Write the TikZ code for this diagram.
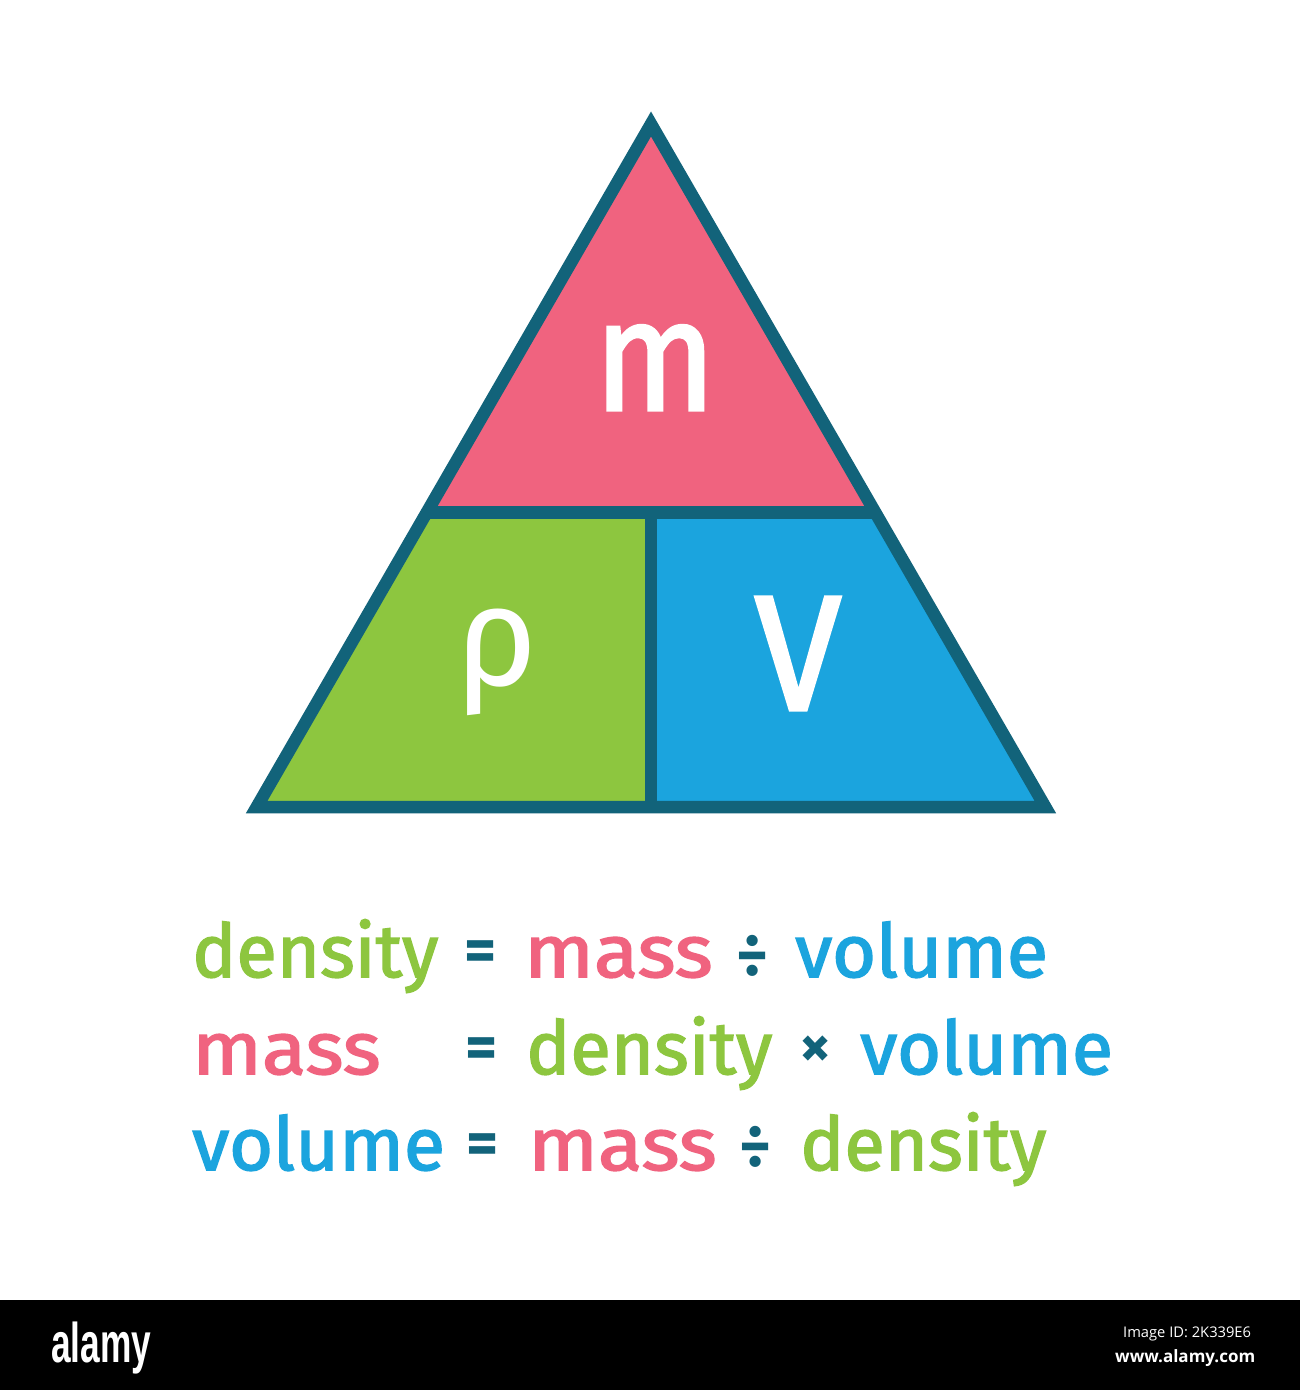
\documentclass[tikz,border=0pt]{standalone}
\usepackage{fontspec}
\setmainfont{Fira Sans}
\newfontfamily\dinfont{Fira Sans}[FakeBold=2]
\newfontfamily\opsans{Open Sans}
\newfontfamily\arialfont{Liberation Sans}
\definecolor{pinkc}{HTML}{F0637F}
\definecolor{greenc}{HTML}{8DC63F}
\definecolor{bluec}{HTML}{1BA4DE}
\definecolor{tealc}{HTML}{12637A}
\tikzset{
  edge/.style={draw=tealc, line width=12.5bp, line join=miter},
  word/.style={anchor=base west, inner sep=0pt, font=\dinfont\fontsize{74bp}{74bp}\selectfont},
  opsym/.style={anchor=center, inner sep=0pt, text=tealc, font=\fontsize{62bp}{62bp}\selectfont\bfseries},
  bigletter/.style={anchor=base, inner sep=0pt, text=white},
  wm/.style={inner sep=0pt, text=white, anchor=base west}
}
\begin{document}
\begin{tikzpicture}[x=1bp,y=-1bp]
\useasboundingbox (0,0) rectangle (1300,1390);
\fill[white] (0,0) rectangle (1300,1390);
% vertices
\coordinate (A) at (651,124);
\coordinate (B) at (256.7,807);
\coordinate (C) at (1045.3,807);
\coordinate (L) at (426.7,512.5);
\coordinate (R) at (875.3,512.5);
\coordinate (M) at (651,512.5);
\coordinate (N) at (651,807);
% regions
\fill[pinkc] (A) -- (L) -- (R) -- cycle;
\fill[greenc] (L) -- (M) -- (N) -- (B) -- cycle;
\fill[bluec] (M) -- (R) -- (C) -- (N) -- cycle;
% outline and dividers
\draw[edge] (L) -- (R);
\draw[edge] (M) -- (N);
\draw[edge] (A) -- (B) -- (C) -- cycle;
% letters
\node[bigletter, font=\dinfont\fontsize{157bp}{157bp}\selectfont, xscale=0.9] (m) at (655,410) {m};
\node[bigletter, font=\fontsize{142bp}{142bp}\selectfont] (rho) at (497,685) {ρ};
\node[bigletter, font=\dinfont\fontsize{164bp}{164bp}\selectfont, xscale=0.95] (V) at (798,710) {V};
% formulas
\node[word, text=greenc] (d1) at (192,977) {density};
\node[opsym] (e1) at (481,956) {=};
\node[word, text=pinkc, xscale=1.1] (m1) at (524,977) {mass};
\node[opsym] (o1) at (753,956) {÷};
\node[word, text=bluec, xscale=1.02] (v1) at (795,977) {volume};

\node[word, text=pinkc, xscale=1.1] (m2) at (192,1074) {mass};
\node[opsym] (e2) at (482,1053) {=};
\node[word, text=greenc] (d2) at (526,1074) {density};
\node[opsym] (o2) at (816,1052) {×};
\node[word, text=bluec, xscale=1.02] (v2) at (860,1074) {volume};

\node[word, text=bluec, xscale=1.02] (v3) at (192,1170) {volume};
\node[opsym] (e3) at (483,1149) {=};
\node[word, text=pinkc, xscale=1.1] (m3) at (528,1170) {mass};
\node[opsym] (o3) at (756,1147) {÷};
\node[word, text=greenc] (d3) at (800,1170) {density};
% bottom bar
\fill[black] (0,1300) rectangle (1300,1390);
\node[wm, font=\arialfont\bfseries\fontsize{56bp}{56bp}\selectfont, xscale=0.63] (alamy) at (51,1362) {alamy};
\node[wm, font=\opsans\fontsize{14.7bp}{15bp}\selectfont] (imgid) at (1123,1337) {Image ID: 2K339E6};
\node[wm, font=\opsans\bfseries\fontsize{17bp}{17bp}\selectfont] (www) at (1115,1362) {www.alamy.com};
\end{tikzpicture}
\end{document}
